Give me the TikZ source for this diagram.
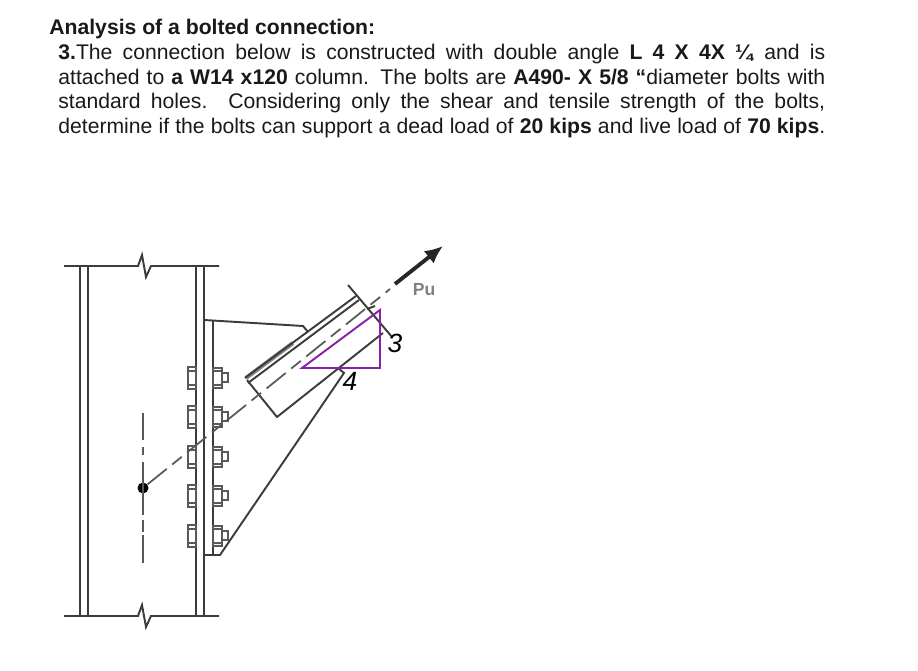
\documentclass[tikz,border=0pt]{standalone}
\usepackage{fontspec}
\setmainfont{Liberation Sans}
\usetikzlibrary{arrows.meta}

\definecolor{steel}{HTML}{3C3C3C}
\definecolor{weld}{HTML}{8A8A8A}
\definecolor{slope}{HTML}{8A1FA8}
\definecolor{loadgray}{HTML}{808080}

\newcommand{\fullline}[1]{\makebox[15.34cm][s]{#1}}

\tikzset{
	member/.style={draw=steel, line width=1.1pt},
	thinpart/.style={draw=steel!85, line width=0.8pt},
	textline/.style={anchor=base west, inner sep=0pt, font=\fontsize{12.05}{14}\selectfont, text=black!90},
	digit/.style={inner sep=0pt, font=\fontsize{15}{15}\selectfont\itshape}
}

\begin{document}
\begin{tikzpicture}[x=0.02cm, y=-0.02cm]
			\useasboundingbox (0, 0) rectangle (918, 671);
			
			% Question text
			\node[textline, font=\fontsize{12.05}{14}\selectfont\bfseries] (title) at (49, 35) {Analysis of a bolted connection:};
			\node[textline] (line1) at (58, 60) {\fullline{\textbf{3.}The connection below is constructed with double angle \textbf{L 4 X 4X ¼} and is}};
			\node[textline] (line2) at (58, 85) {\fullline{attached to \textbf{a W14 x120} column. The bolts are \textbf{A490- X 5/8 “}diameter bolts with}};
			\node[textline] (line3) at (58, 109) {\fullline{standard holes. Considering only the shear and tensile strength of the bolts,}};
			\node[textline] (line4) at (58, 134) {\fullline{determine if the bolts can support a dead load of \textbf{20 kips} and live load of \textbf{70 kips}.}};
			
			% Column flanges
			\draw[member] (80, 266) -- (80, 616);
			\draw[member] (88, 266) -- (88, 616);
			\draw[member] (196, 266) -- (196, 616);
			\draw[member] (204, 266) -- (204, 616);
			
			% Top break line
			\draw[member] (64, 266) -- (138, 266) -- (142, 255) -- (146, 277) -- (151, 266) -- (219, 266);
			
			% Bottom break line
			\draw[member] (64, 616) -- (138, 616) -- (142, 605) -- (146, 627) -- (151, 616) -- (219, 616);
			
			% Gusset plate
			\draw[member] (204, 320) -- (303, 326) -- (308, 332);
			\draw[member] (213, 320) -- (213, 555);
			\draw[member] (204, 555) -- (220, 555) -- (344, 373) -- (338, 368);
			
			% Bolts
			\foreach \boltrow in {378, 417, 457, 496, 536} {
				\draw[thinpart] (188, \boltrow-11) rectangle (196, \boltrow+11);
				\draw[thinpart] (188, \boltrow-7) -- (196, \boltrow-7);
				\draw[thinpart] (188, \boltrow+7) -- (196, \boltrow+7);
				\draw[thinpart] (213, \boltrow-10) rectangle (222, \boltrow+10);
				\draw[thinpart] (213, \boltrow-7) -- (222, \boltrow-7);
				\draw[thinpart] (213, \boltrow+7) -- (222, \boltrow+7);
				\draw[thinpart] (222, \boltrow-5) rectangle (228, \boltrow+4);
			}
			
			% Double angle
			\draw[draw=weld, line width=2.4pt] (246, 378) -- (293, 343);
			\draw[member] (245, 378) -- (356, 296);
			\draw[member] (248, 383) -- (359, 300);
			\draw[member] (247, 380) -- (277, 417) -- (383, 333);
			\draw[member] (348, 285) -- (392, 337);
			\draw[member] (367, 309) -- (375, 306);
			
			% Center lines
			\node[circle, fill=black, inner sep=0pt, minimum size=0.22cm] (dot) at (143, 488) {};
			\coordinate (cltop) at (143, 413);
			\coordinate (clbottom) at (143, 563);
			\coordinate (lineend) at (390, 289);
			\coordinate (shaft) at (395, 284);
			\coordinate (tip) at (443, 246);
			\draw[thinpart, line width=1pt, dash pattern=on 15.3pt off 4pt on 4.5pt off 4pt on 30pt off 3pt on 6.8pt off 2pt on 16pt] (cltop) -- (clbottom);
			\draw[thinpart, line width=1pt, dash pattern=on 14pt off 4pt on 7pt off 4pt] (dot) -- (lineend);
			
			% Load arrow
			\draw[-{Latex[length=0.36cm, width=0.32cm]}, line width=2.2pt, draw=black!85, fill=black!85] (shaft) -- (tip);
			\node[inner sep=0pt, text=loadgray, font=\fontsize{10}{10}\selectfont\bfseries] (pu) at (424, 290) {Pu};
			
			% Slope triangle
			\coordinate (slopea) at (302, 368);
			\coordinate (slopeb) at (380, 368);
			\coordinate (slopec) at (380, 310);
			\draw[draw=slope, line width=1.1pt] (slopea) -- (slopeb) -- (slopec) -- cycle;
			\node[digit] (run) at (350, 381) {4};
			\node[digit] (rise) at (395, 343) {3};
			
		\end{tikzpicture}
\end{document}
